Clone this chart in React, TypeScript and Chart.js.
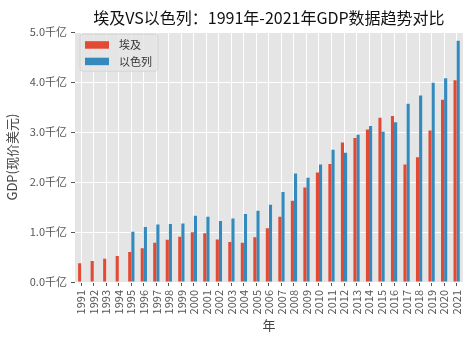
import React, { useEffect, useRef } from "react";
import { Chart, registerables } from "chart.js";

Chart.register(...registerables);

const years: string[] = [
  "1991", "1992", "1993", "1994", "1995", "1996", "1997", "1998", "1999", "2000",
  "2001", "2002", "2003", "2004", "2005", "2006", "2007", "2008", "2009", "2010",
  "2011", "2012", "2013", "2014", "2015", "2016", "2017", "2018", "2019", "2020", "2021",
];

// GDP in 千亿 (100 billion USD)
const egypt: (number | null)[] = [
  0.373, 0.42, 0.466, 0.519, 0.602, 0.676, 0.784, 0.848, 0.907, 0.998,
  0.976, 0.851, 0.803, 0.788, 0.896, 1.075, 1.304, 1.628, 1.89, 2.19,
  2.36, 2.79, 2.88, 3.05, 3.29, 3.324, 2.35, 2.497, 3.03, 3.65, 4.04,
];

const israel: (number | null)[] = [
  null, null, null, null, 1.007, 1.1, 1.153, 1.16, 1.173, 1.327,
  1.307, 1.22, 1.273, 1.36, 1.427, 1.547, 1.8, 2.173, 2.087, 2.353,
  2.647, 2.587, 2.947, 3.12, 3.007, 3.2, 3.567, 3.733, 3.987, 4.08, 4.827,
];

const seriesNames = ["埃及", "以色列"];
const seriesColors = ["#E24A33", "#348ABD"];
const yTicks = [0, 1, 2, 3, 4, 5];

const FONT = "'Noto Sans CJK SC', 'Noto Sans', sans-serif";

const bgPlugin = {
  id: "plotBg",
  beforeDraw(chart: any) {
    const { ctx, chartArea } = chart;
    ctx.save();
    ctx.fillStyle = "#E5E5E5";
    ctx.fillRect(chartArea.left, chartArea.top, chartArea.right - chartArea.left, chartArea.bottom - chartArea.top);
    ctx.restore();
  },
};

const legendPlugin = {
  id: "innerLegend",
  afterDatasetsDraw(chart: any) {
    const { ctx, chartArea } = chart;
    const x = chartArea.left + 5;
    const y = chartArea.top + 2;
    const w = 78;
    const h = 37;
    ctx.save();
    ctx.beginPath();
    const r = 3;
    ctx.moveTo(x + r, y);
    ctx.arcTo(x + w, y, x + w, y + h, r);
    ctx.arcTo(x + w, y + h, x, y + h, r);
    ctx.arcTo(x, y + h, x, y, r);
    ctx.arcTo(x, y, x + w, y, r);
    ctx.closePath();
    ctx.fillStyle = "rgba(229,229,229,0.85)";
    ctx.fill();
    ctx.strokeStyle = "#D5D5D5";
    ctx.lineWidth = 1;
    ctx.stroke();
    ctx.font = `11px ${FONT}`;
    ctx.textBaseline = "middle";
    ctx.textAlign = "left";
    seriesNames.forEach((name, i) => {
      const cy = y + 11 + i * 16.5;
      ctx.fillStyle = seriesColors[i];
      ctx.fillRect(x + 5, cy - 4, 24, 7.5);
      ctx.fillStyle = "#333";
      ctx.fillText(name, x + 39, cy);
    });
    ctx.restore();
  },
};

export default function App() {
  const ref = useRef<HTMLCanvasElement | null>(null);
  useEffect(() => {
    if (!ref.current) return;
    Chart.defaults.font.family = FONT;
    const chart = new Chart(ref.current, {
      type: "bar",
      data: {
        labels: years,
        datasets: [
          {
            label: seriesNames[0],
            data: egypt,
            backgroundColor: seriesColors[0],
            categoryPercentage: 0.5,
            barPercentage: 1,
          },
          {
            label: seriesNames[1],
            data: israel,
            backgroundColor: seriesColors[1],
            categoryPercentage: 0.5,
            barPercentage: 1,
          },
        ],
      },
      options: {
        responsive: false,
        animation: false,
        devicePixelRatio: 1,
        layout: { padding: { left: 0, right: 9, top: 0, bottom: 0 } },
        plugins: {
          legend: { display: false },
          tooltip: { enabled: false },
          title: {
            display: true,
            text: "埃及VS以色列：1991年-2021年GDP数据趋势对比",
            fullSize: false,
            color: "#111",
            font: { size: 16, weight: "normal", family: FONT },
            padding: { top: 8, bottom: 5 },
          },
        },
        scales: {
          x: {
            offset: true,
            grid: {
              offset: false,
              color: "#FFFFFF",
              lineWidth: 1,
              drawTicks: true,
              tickLength: 4,
              tickColor: "#555555",
              tickWidth: 1,
            },
            border: { display: false },
            ticks: {
              autoSkip: false,
              maxRotation: 90,
              minRotation: 90,
              color: "#555555",
              padding: 4,
              font: { size: 11, family: FONT },
            },
            title: {
              display: true,
              text: "年",
              color: "#444444",
              font: { size: 13, family: FONT },
              padding: { top: 0, bottom: 7 },
            },
            afterFit(scale: any) {
              scale.height = 58;
            },
          },
          y: {
            min: 0,
            max: 5,
            afterBuildTicks(scale: any) {
              scale.ticks = yTicks.map((v) => ({ value: v }));
            },
            grid: {
              color: "#FFFFFF",
              lineWidth: 1,
              drawTicks: true,
              tickLength: 4,
              tickColor: "#555555",
              tickWidth: 1,
            },
            border: { display: false },
            ticks: {
              color: "#555555",
              padding: 4,
              font: { size: 11, family: FONT },
              callback: (v: any) => Number(v).toFixed(1) + "千亿",
            },
            title: {
              display: true,
              text: "GDP(现价美元)",
              color: "#444444",
              font: { size: 13, family: FONT },
              padding: { top: 4, bottom: 0 },
            },
            afterFit(scale: any) {
              scale.width = 75;
            },
          },
        },
      },
      plugins: [bgPlugin, legendPlugin],
    });
    return () => chart.destroy();
  }, []);
  return (
    <div style={{ position: "absolute", left: 0, top: 0, width: 474, height: 340 }}>
      <canvas ref={ref} width={474} height={340} style={{ display: "block" }} />
    </div>
  );
}
